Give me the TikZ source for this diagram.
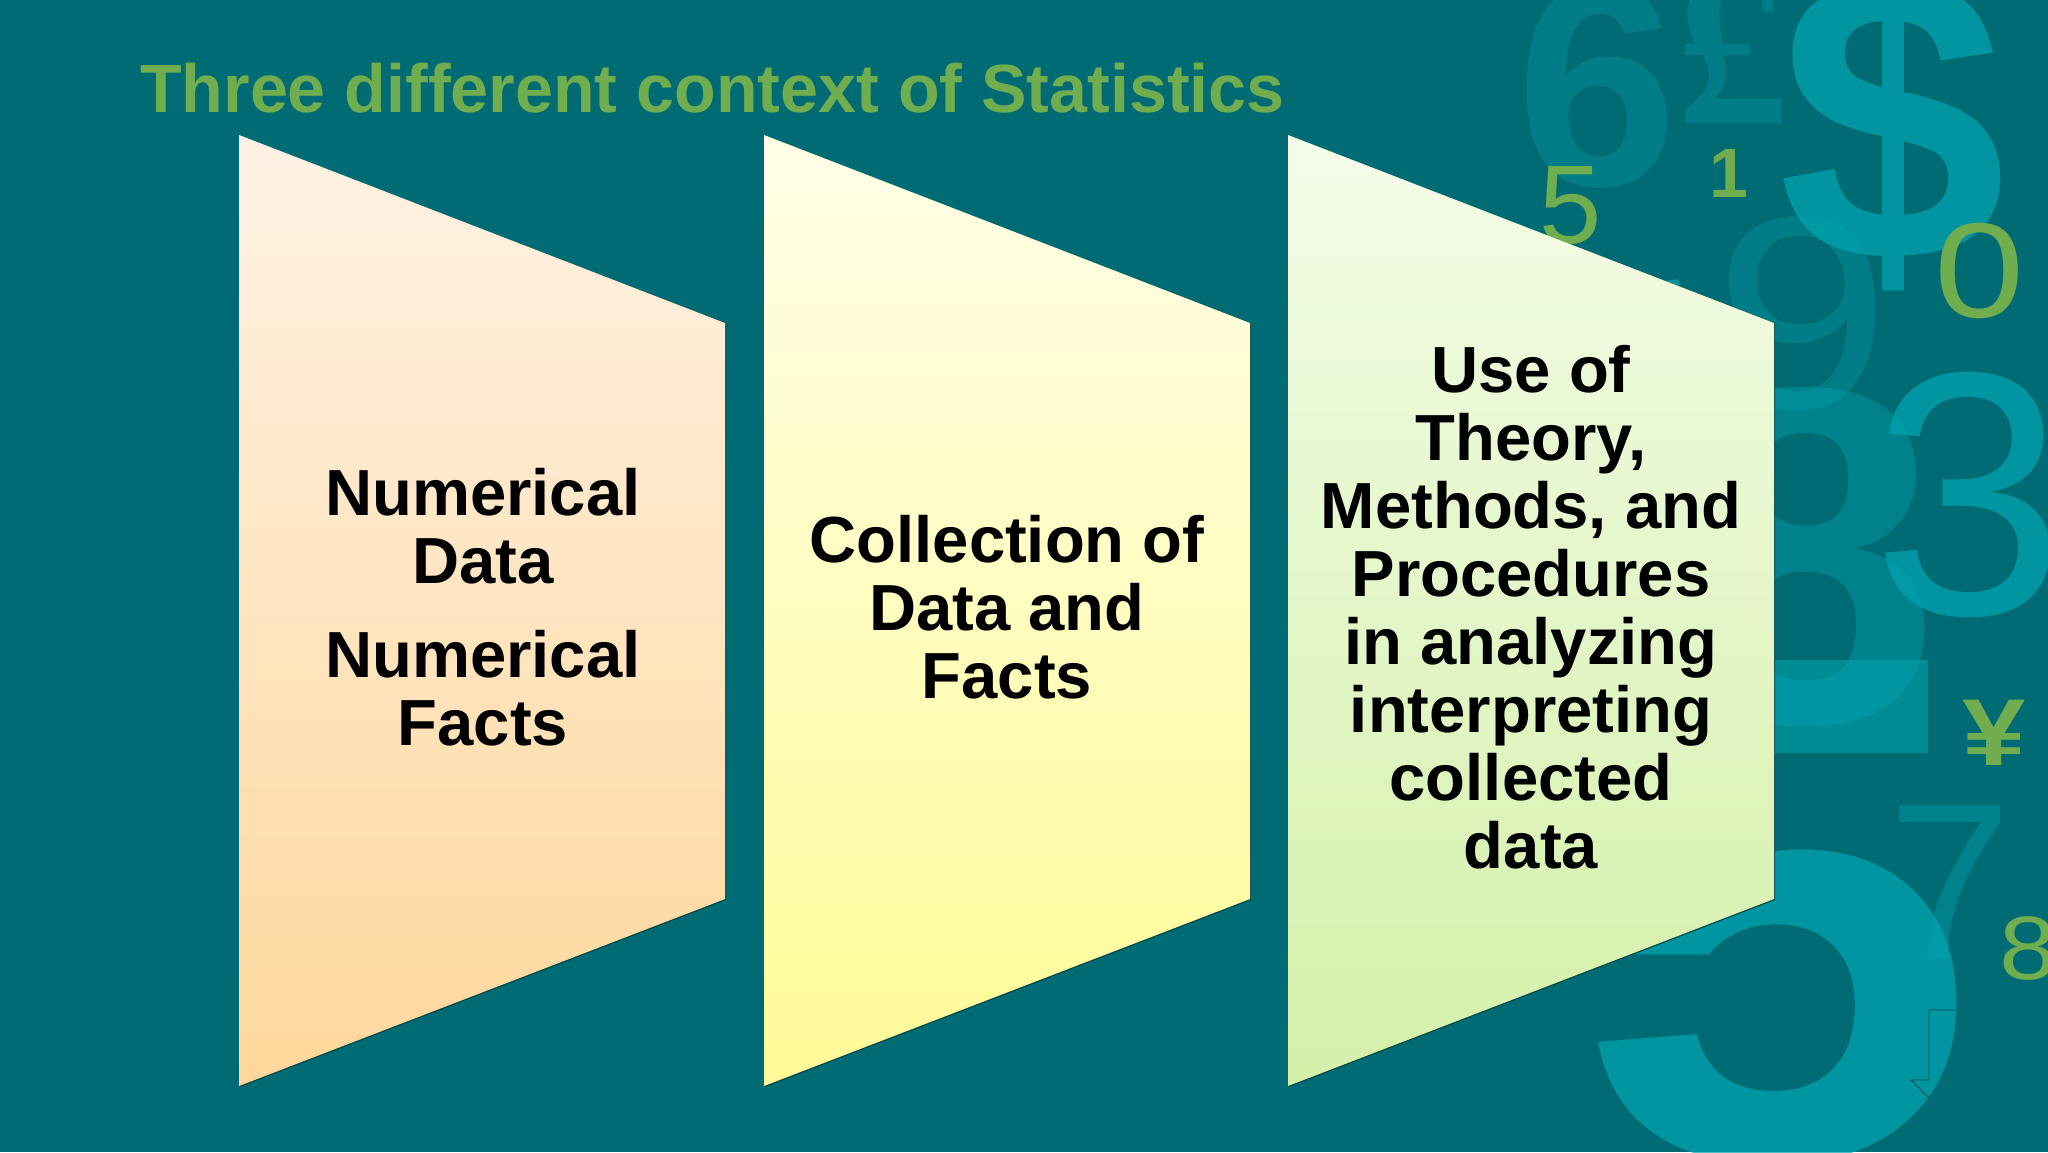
\documentclass[tikz,border=0pt]{standalone}
\usepackage{fontspec}
\setmainfont{Liberation Sans}
\newfontfamily\serifglyph{Liberation Serif}
\definecolor{bgteal}{HTML}{016B73}
\definecolor{glyphteal}{HTML}{00A6B2}
\definecolor{leaf}{HTML}{70AD4F}
\newcommand{\sz}[1]{\fontsize{#1}{#1}\selectfont}
\tikzset{
  glyph/.style={inner sep=0pt,outer sep=0pt,anchor=base,text=glyphteal},
  faint/.style={glyph,text opacity=0.32},
  mid/.style={glyph,text opacity=0.40},
  strong/.style={glyph,text opacity=0.72},
  greenglyph/.style={inner sep=0pt,outer sep=0pt,anchor=base,text=leaf},
  panelshadow/.style={fill=black!35!bgteal},
  paneltext/.style={font=\bfseries\fontsize{65.2}{68}\selectfont,align=center,text=black,inner sep=0pt,anchor=center},
}
\begin{document}
\begin{tikzpicture}[x=1pt,y=-1pt]
\useasboundingbox (0,0) rectangle (2048,1152);
\fill[bgteal] (0,0) rectangle (2048,1152);
% background glyphs
\node[faint,font=\bfseries\sz{290}] (six) at (1597,185) {6};
\node[faint,font=\serifglyph\bfseries\sz{225}] (pound) at (1733,123) {£};
\node[strong,font=\bfseries\sz{410}] (dollar) at (1892,260) {\$};
\node[faint,font=\sz{275},xscale=1.15] (nine) at (1802,408) {9};
\node[mid,font=\bfseries\sz{480}] (eight) at (1806,722) {8};
\fill[glyphteal,opacity=.55] (1700,660) rectangle (1928,753);
\node[strong,font=\sz{347}] (three) at (1969,614) {3};
\node[mid,font=\sz{222}] (seven) at (1950,958) {7};
\begin{scope}
\clip (1500,846) rectangle (2048,1152);
\node[strong,font=\bfseries\sz{720},yscale=.94] (five) at (1777,1158) {5};
\end{scope}
\fill[glyphteal,opacity=.72] (1679,279) -- (1665,281) -- (1650,300) -- (1679,305) -- cycle;
% small outlined arrow
\coordinate (arA) at (1955,1010);
\coordinate (arB) at (1929,1010);
\coordinate (arC) at (1929,1080);
\coordinate (arD) at (1911,1080);
\coordinate (arE) at (1929,1098);
\draw[black!35!bgteal,line width=.8pt] (arA) -- (arB) -- (arC) -- (arD) -- (arE);
% green glyphs
\node[greenglyph,font=\sz{112}] (gfive) at (1571,243) {5};
\node[greenglyph,font=\bfseries\sz{70}] (gone) at (1729,197) {1};
\node[greenglyph,font=\sz{135},xscale=1.2] (gzero) at (1980,317) {0};
\node[greenglyph,font=\bfseries\sz{95},xscale=1.2] (yen) at (1994,765) {¥};
\node[greenglyph,font=\sz{90},xscale=1.15] (geight) at (2028,979) {8};
% title
\node[inner sep=0pt,anchor=base west,text=leaf,font=\bfseries\sz{68.2}] (title) at (140,112) {Three different context of Statistics};
% panels
\foreach \dx in {0,525,1049}{
  \fill[panelshadow] (239+\dx+1,135+1) -- (725+\dx+1,323) -- (725+\dx+1,899+1) -- (239+\dx+1,1086+1) -- cycle;
}
\shade[top color={rgb,255:red,255;green,242;blue,229},bottom color={rgb,255:red,255;green,215;blue,155}]
  (239,135) -- (725,323) -- (725,899) -- (239,1086) -- cycle;
\shade[top color={rgb,255:red,255;green,255;blue,232},bottom color={rgb,255:red,255;green,250;blue,150}]
  (764,135) -- (1250,323) -- (1250,899) -- (764,1086) -- cycle;
\shade[top color={rgb,255:red,244;green,252;blue,232},bottom color={rgb,255:red,212;green,240;blue,168}]
  (1288,135) -- (1774,323) -- (1774,899) -- (1288,1086) -- cycle;
% panel texts
\node[paneltext] (ta) at (483,607) {Numerical\\Data\\[26pt]Numerical\\Facts};
\node[paneltext] (tb) at (1007,607) {Collection of\\Data and\\Facts};
\node[paneltext] (tc) at (1531,607) {Use of\\Theory,\\Methods, and\\Procedures\\in analyzing\\interpreting\\collected\\data};
\end{tikzpicture}
\end{document}
